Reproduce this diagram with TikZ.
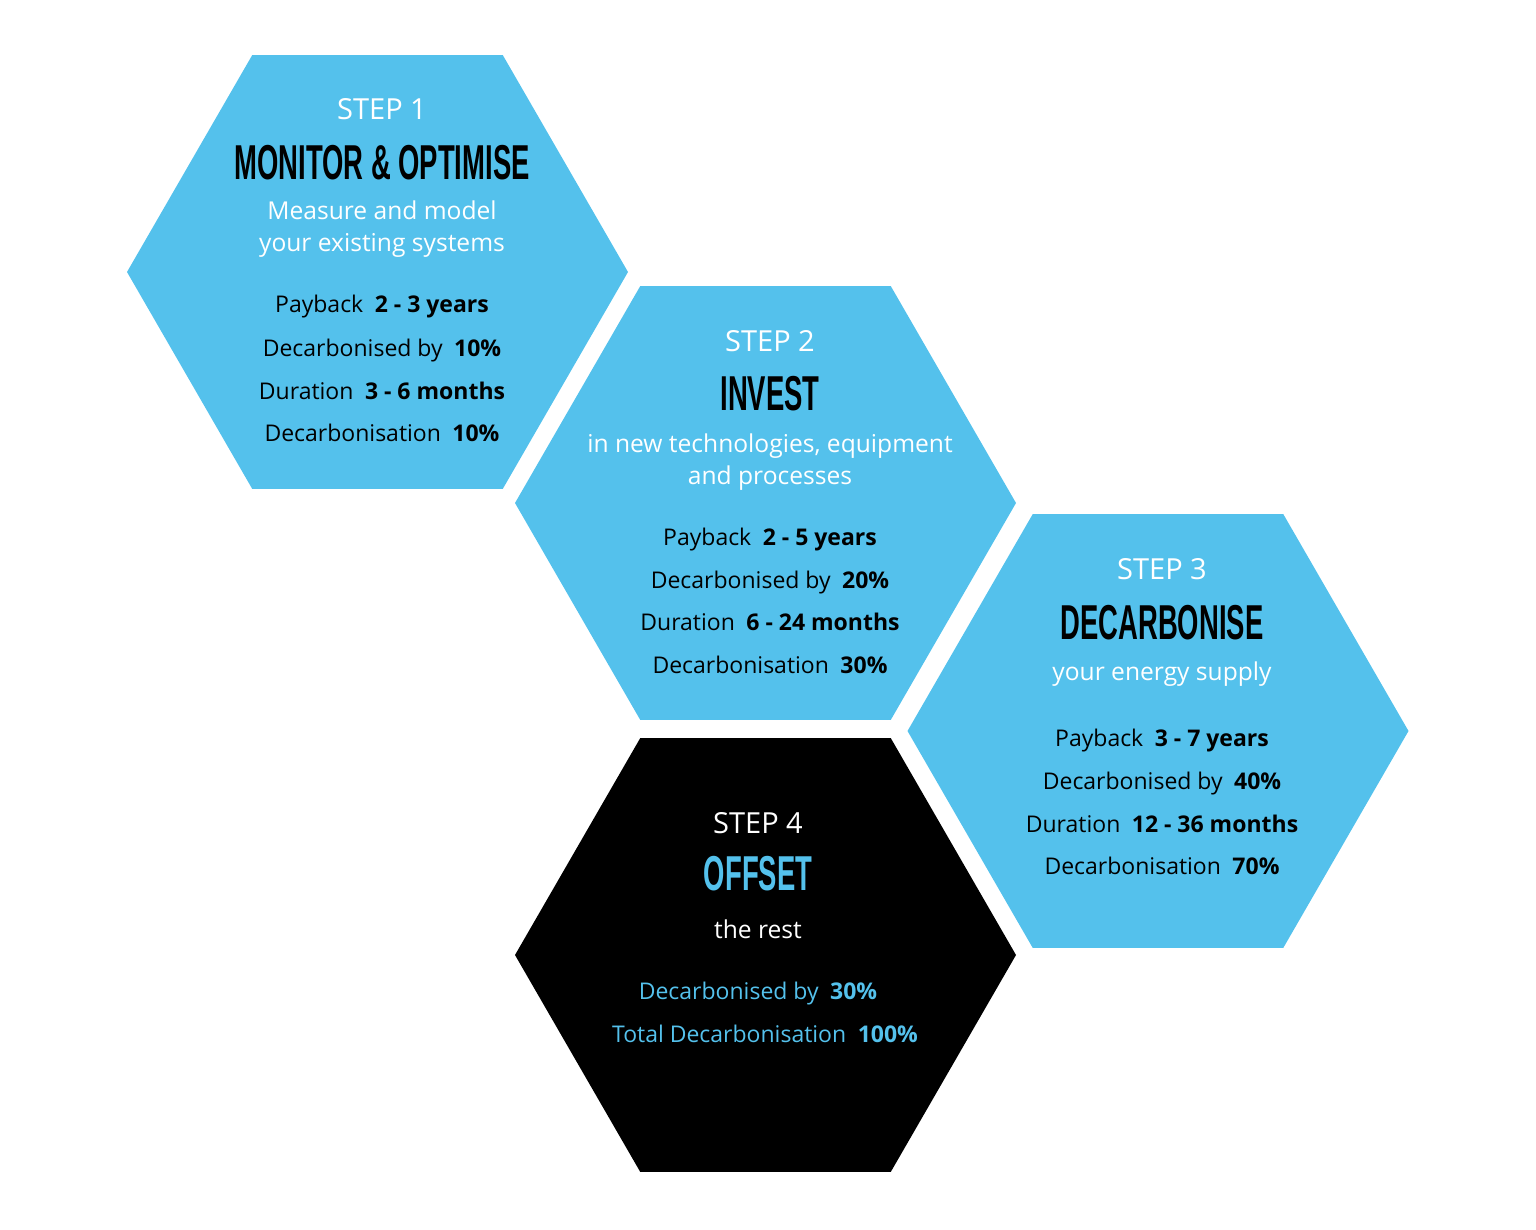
\documentclass[tikz,border=0pt]{standalone}
\usepackage{fontspec}
\setmainfont{Open Sans}
\newfontfamily\titlefont[FakeStretch=0.56]{Liberation Sans}
\usetikzlibrary{positioning, shapes.geometric}
\definecolor{skyblue}{RGB}{84,193,236}

\begin{document}
\begin{tikzpicture}[
    x=1pt, y=-1pt,
    hexcell/.style={regular polygon, regular polygon sides=6, minimum size=501pt, inner sep=0pt, outer sep=0pt, fill=skyblue},
    steplabel/.style={anchor=base, inner sep=0pt, text=white, font=\fontsize{29}{35}\selectfont},
    headline/.style={anchor=base, inner sep=0pt, font=\titlefont\bfseries\fontsize{49}{55}\selectfont},
    subline/.style={anchor=base, inner sep=0pt, text=white, font=\fontsize{24.6}{30}\selectfont},
    factline/.style={anchor=base, inner sep=0pt, font=\fontsize{23}{28}\selectfont}
]
\useasboundingbox (0,0) rectangle (1536,1230);

% Hexagons
\node[hexcell] (monitor) at (377.5,272) {};
\node[hexcell] (invest) at (765.5,503) {};
\node[hexcell] (decarb) at (1158,731) {};
\node[hexcell, fill=black] (offset) at (765.5,955) {};

% Step 1
\node[steplabel] (step1) at (382,120) {STEP 1};
\node[below=60pt of step1.base, headline] (title1) {MONITOR \& OPTIMISE};
\node[below=40pt of title1.base, subline] (sub1a) {Measure and model};
\node[below=32pt of sub1a.base, subline] (sub1b) {your existing systems};
\node[below=61pt of sub1b.base, factline] (pay1) {Payback\hspace{0.5em}\textbf{2 - 3 years}};
\node[below=43pt of pay1.base, factline] (by1) {Decarbonised by\hspace{0.5em}\textbf{10\%}};
\node[below=43pt of by1.base, factline] (dur1) {Duration\hspace{0.5em}\textbf{3 - 6 months}};
\node[below=42pt of dur1.base, factline] (tot1) {Decarbonisation\hspace{0.5em}\textbf{10\%}};

% Step 2
\node[steplabel] (step2) at (770,352) {STEP 2};
\node[below=58pt of step2.base, headline] (title2) {INVEST};
\node[below=42pt of title2.base, subline] (sub2a) {in new technologies, equipment};
\node[below=32pt of sub2a.base, subline] (sub2b) {and processes};
\node[below=61pt of sub2b.base, factline] (pay2) {Payback\hspace{0.5em}\textbf{2 - 5 years}};
\node[below=43pt of pay2.base, factline] (by2) {Decarbonised by\hspace{0.5em}\textbf{20\%}};
\node[below=42pt of by2.base, factline] (dur2) {Duration\hspace{0.5em}\textbf{6 - 24 months}};
\node[below=43pt of dur2.base, factline] (tot2) {Decarbonisation\hspace{0.5em}\textbf{30\%}};

% Step 3
\node[steplabel] (step3) at (1162,579) {STEP 3};
\node[below=60pt of step3.base, headline] (title3) {DECARBONISE};
\node[below=41pt of title3.base, subline] (sub3) {your energy supply};
\node[below=66pt of sub3.base, factline] (pay3) {Payback\hspace{0.5em}\textbf{3 - 7 years}};
\node[below=43pt of pay3.base, factline] (by3) {Decarbonised by\hspace{0.5em}\textbf{40\%}};
\node[below=43pt of by3.base, factline] (dur3) {Duration\hspace{0.5em}\textbf{12 - 36 months}};
\node[below=42pt of dur3.base, factline] (tot3) {Decarbonisation\hspace{0.5em}\textbf{70\%}};

% Step 4
\node[steplabel] (step4) at (758,833) {STEP 4};
\node[below=57pt of step4.base, headline, text=skyblue] (title4) {OFFSET};
\node[below=48pt of title4.base, subline] (sub4) {the rest};
\node[below=61pt of sub4.base, factline, text=skyblue] (by4) {Decarbonised by\hspace{0.5em}\textbf{30\%}};
\node[below=43pt of by4.base, factline, text=skyblue, xshift=7pt] (tot4) {Total Decarbonisation\hspace{0.5em}\textbf{100\%}};

\end{tikzpicture}
\end{document}
